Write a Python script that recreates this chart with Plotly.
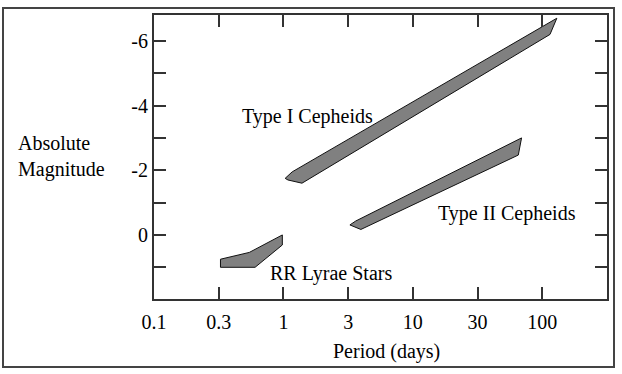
import numpy as np
import plotly.graph_objects as go

# Axis tick periods (equally spaced on the original chart)
tick_periods = [0.1, 0.3, 1, 3, 10, 30, 100, 300]
tick_labels = ["0.1", "0.3", "1", "3", "10", "30", "100", ""]

mag_ticks = [-6, -5, -4, -3, -2, -1, 0, 1]
mag_labels = ["-6", "", "-4", "", "-2", "", "0", ""]

# Regions (polygon outlines): period in days, absolute magnitude
type1_period = [1.03, 1.16, 128, 114, 1.37, 1.08]
type1_mag = [-1.75, -1.95, -6.7, -6.2, -1.6, -1.7]

type2_period = [3.1, 3.45, 68, 64, 3.8]
type2_mag = [-0.31, -0.43, -3.0, -2.47, -0.17]

rr_period = [0.31, 0.31, 0.53, 0.98, 0.98, 0.59]
rr_mag = [1.0, 0.75, 0.54, 0.0, 0.31, 1.0]

labels = ["Type I Cepheids", "Type II Cepheids", "RR Lyrae Stars"]
label_period = [1.5, 52, 2.24]
label_mag = [-3.65, -0.65, 1.18]

log_ticks = np.log10(tick_periods)
idx = np.arange(len(tick_periods))


def pos(p):
    return np.interp(np.log10(np.asarray(p, dtype=float)), log_ticks, idx)


FONT = "Liberation Serif"
fig = go.Figure()
for px, mg in [(type1_period, type1_mag), (type2_period, type2_mag), (rr_period, rr_mag)]:
    xs = list(pos(px)) + [pos(px)[0]]
    ys = list(mg) + [mg[0]]
    fig.add_trace(go.Scatter(x=xs, y=ys, mode="lines", fill="toself",
                             fillcolor="#808080",
                             line=dict(color="#111111", width=1),
                             hoverinfo="skip", showlegend=False))

for t, p, m in zip(labels, label_period, label_mag):
    fig.add_annotation(x=float(pos(p)), y=m, text=t, showarrow=False,
                       font=dict(family=FONT, size=20, color="black"),
                       xanchor="center", yanchor="middle")

W, H = 622, 374
L, R, T, B = 154, 607, 15, 299
pw, ph = R - L, B - T


def px_x(x):
    return (x - L) / pw


def px_y(y):
    return (B - y) / ph


fig.add_annotation(x=px_x(16), y=px_y(156), xref="paper", yref="paper",
                   text="Absolute<br>Magnitude", showarrow=False, align="left",
                   xanchor="left", yanchor="middle",
                   font=dict(family=FONT, size=20, color="black"))
fig.add_annotation(x=px_x(386), y=px_y(351), xref="paper", yref="paper",
                   text="Period (days)", showarrow=False,
                   xanchor="center", yanchor="middle",
                   font=dict(family=FONT, size=20, color="black"))

fig.add_shape(type="rect", xref="paper", yref="paper",
              x0=px_x(3), x1=px_x(614), y0=px_y(367), y1=px_y(8),
              line=dict(color="#444444", width=2), layer="below")

axis_common = dict(showline=True, linecolor="#333333", linewidth=2,
                   ticks="inside", ticklen=12, tickwidth=2, tickcolor="#333333",
                   mirror="ticks", showgrid=False, zeroline=False,
                   tickfont=dict(family=FONT, size=20, color="black"))

fig.update_layout(
    width=W, height=H,
    margin=dict(l=L, r=W - R, t=T, b=H - B, pad=0),
    paper_bgcolor="white", plot_bgcolor="white",
    xaxis=dict(range=[0, 7], tickmode="array", tickvals=list(idx),
               ticktext=tick_labels, ticklabelstandoff=4, **axis_common),
    yaxis=dict(range=[1.98, -6.8], tickmode="array", tickvals=mag_ticks,
               ticktext=mag_labels, **axis_common),
)

fig.write_html("out.html", config={"displayModeBar": False},
               post_script="document.body.style.margin='0';document.body.style.overflow='hidden';")
